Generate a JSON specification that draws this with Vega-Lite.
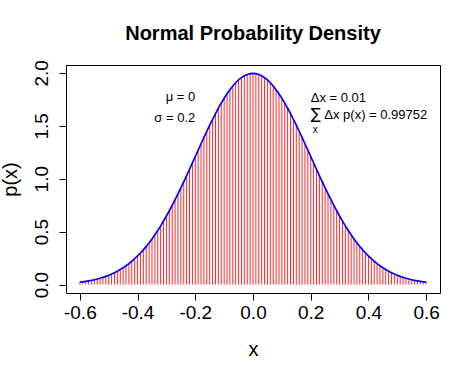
{
  "$schema": "https://vega.github.io/schema/vega-lite/v6.json",
  "autosize": "none",
  "width": 374,
  "height": 228,
  "padding": {"left": 66, "top": 65, "right": 34, "bottom": 84},
  "background": "white",
  "title": {
    "text": "Normal Probability Density",
    "font": "Liberation Sans",
    "fontSize": 20,
    "fontWeight": "bold",
    "color": "black",
    "anchor": "middle",
    "frame": "group",
    "offset": 16
  },
  "config": {
    "view": {"stroke": "black", "strokeWidth": 1},
    "font": "Liberation Sans",
    "axis": {
      "domain": false,
      "grid": false,
      "ticks": true,
      "tickColor": "black",
      "tickSize": 7,
      "labelColor": "black",
      "labelFont": "Liberation Sans",
      "labelFontSize": 19,
      "titleFont": "Liberation Sans",
      "titleFontSize": 20,
      "titleFontWeight": "normal",
      "titleColor": "black"
    }
  },
  "datasets": {
    "dens": [
      {"x":-0.60,"p":0.0222},{"x":-0.59,"p":0.0257},{"x":-0.58,"p":0.0298},{"x":-0.57,"p":0.0344},{"x":-0.56,"p":0.0396},
      {"x":-0.55,"p":0.0455},{"x":-0.54,"p":0.0521},{"x":-0.53,"p":0.0596},{"x":-0.52,"p":0.0679},{"x":-0.51,"p":0.0772},
      {"x":-0.50,"p":0.0876},{"x":-0.49,"p":0.0992},{"x":-0.48,"p":0.1120},{"x":-0.47,"p":0.1261},{"x":-0.46,"p":0.1416},
      {"x":-0.45,"p":0.1587},{"x":-0.44,"p":0.1774},{"x":-0.43,"p":0.1977},{"x":-0.42,"p":0.2199},{"x":-0.41,"p":0.2440},
      {"x":-0.40,"p":0.2700},{"x":-0.39,"p":0.2980},{"x":-0.38,"p":0.3281},{"x":-0.37,"p":0.3603},{"x":-0.36,"p":0.3948},
      {"x":-0.35,"p":0.4314},{"x":-0.34,"p":0.4702},{"x":-0.33,"p":0.5113},{"x":-0.32,"p":0.5546},{"x":-0.31,"p":0.6000},
      {"x":-0.30,"p":0.6476},{"x":-0.29,"p":0.6972},{"x":-0.28,"p":0.7486},{"x":-0.27,"p":0.8019},{"x":-0.26,"p":0.8568},
      {"x":-0.25,"p":0.9132},{"x":-0.24,"p":0.9709},{"x":-0.23,"p":1.0297},{"x":-0.22,"p":1.0893},{"x":-0.21,"p":1.1494},
      {"x":-0.20,"p":1.2099},{"x":-0.19,"p":1.2703},{"x":-0.18,"p":1.3304},{"x":-0.17,"p":1.3899},{"x":-0.16,"p":1.4485},
      {"x":-0.15,"p":1.5057},{"x":-0.14,"p":1.5613},{"x":-0.13,"p":1.6149},{"x":-0.12,"p":1.6661},{"x":-0.11,"p":1.7147},
      {"x":-0.10,"p":1.7603},{"x":-0.09,"p":1.8026},{"x":-0.08,"p":1.8414},{"x":-0.07,"p":1.8762},{"x":-0.06,"p":1.9069},
      {"x":-0.05,"p":1.9333},{"x":-0.04,"p":1.9552},{"x":-0.03,"p":1.9724},{"x":-0.02,"p":1.9848},{"x":-0.01,"p":1.9922},
      {"x":0.00,"p":1.9947},
      {"x":0.01,"p":1.9922},{"x":0.02,"p":1.9848},{"x":0.03,"p":1.9724},{"x":0.04,"p":1.9552},{"x":0.05,"p":1.9333},
      {"x":0.06,"p":1.9069},{"x":0.07,"p":1.8762},{"x":0.08,"p":1.8414},{"x":0.09,"p":1.8026},{"x":0.10,"p":1.7603},
      {"x":0.11,"p":1.7147},{"x":0.12,"p":1.6661},{"x":0.13,"p":1.6149},{"x":0.14,"p":1.5613},{"x":0.15,"p":1.5057},
      {"x":0.16,"p":1.4485},{"x":0.17,"p":1.3899},{"x":0.18,"p":1.3304},{"x":0.19,"p":1.2703},{"x":0.20,"p":1.2099},
      {"x":0.21,"p":1.1494},{"x":0.22,"p":1.0893},{"x":0.23,"p":1.0297},{"x":0.24,"p":0.9709},{"x":0.25,"p":0.9132},
      {"x":0.26,"p":0.8568},{"x":0.27,"p":0.8019},{"x":0.28,"p":0.7486},{"x":0.29,"p":0.6972},{"x":0.30,"p":0.6476},
      {"x":0.31,"p":0.6000},{"x":0.32,"p":0.5546},{"x":0.33,"p":0.5113},{"x":0.34,"p":0.4702},{"x":0.35,"p":0.4314},
      {"x":0.36,"p":0.3948},{"x":0.37,"p":0.3603},{"x":0.38,"p":0.3281},{"x":0.39,"p":0.2980},{"x":0.40,"p":0.2700},
      {"x":0.41,"p":0.2440},{"x":0.42,"p":0.2199},{"x":0.43,"p":0.1977},{"x":0.44,"p":0.1774},{"x":0.45,"p":0.1587},
      {"x":0.46,"p":0.1416},{"x":0.47,"p":0.1261},{"x":0.48,"p":0.1120},{"x":0.49,"p":0.0992},{"x":0.50,"p":0.0876},
      {"x":0.51,"p":0.0772},{"x":0.52,"p":0.0679},{"x":0.53,"p":0.0596},{"x":0.54,"p":0.0521},{"x":0.55,"p":0.0455},
      {"x":0.56,"p":0.0396},{"x":0.57,"p":0.0344},{"x":0.58,"p":0.0298},{"x":0.59,"p":0.0257},{"x":0.60,"p":0.0222}
    ],
    "notesRight": [
      {"x":-0.2,"y":1.77,"label":"μ = 0"},
      {"x":-0.2,"y":1.57,"label":"σ = 0.2"}
    ],
    "notesLeft": [
      {"x":0.2,"y":1.765,"label":"Δx = 0.01"},
      {"x":0.247,"y":1.6,"label":"Δx p(x) = 0.99752"}
    ],
    "sigma": [{"x":0.2,"y":1.61,"label":"∑"}],
    "sub": [{"x":0.207,"y":1.46,"label":"x"}]
  },
  "encoding": {
    "x": {
      "field": "x", "type": "quantitative",
      "scale": {"domain": [-0.648, 0.648], "nice": false, "zero": false},
      "axis": {"title": "x", "values": [-0.6,-0.4,-0.2,0,0.2,0.4,0.6], "format": ".1f",
               "labelExpr": "replace(datum.label, '\u2212', '-')",
               "labelPadding": 3, "titlePadding": 17}
    },
    "y": {
      "field": "p", "type": "quantitative",
      "scale": {"domain": [-0.0798, 2.0745], "nice": false, "zero": false},
      "axis": {"title": "p(x)", "values": [0,0.5,1,1.5,2], "format": ".1f",
               "labelAngle": -90, "labelAlign": "center", "labelBaseline": "bottom",
               "labelPadding": 8, "titlePadding": 12}
    }
  },
  "layer": [
    {
      "data": {"name": "dens"},
      "mark": {"type": "rule", "color": "#ff0000", "strokeWidth": 1, "opacity": 0.85},
      "encoding": {"y2": {"datum": 0}}
    },
    {
      "data": {"name": "dens"},
      "mark": {"type": "line", "color": "#0000ff", "strokeWidth": 1.7}
    },
    {
      "data": {"name": "notesRight"},
      "mark": {"type": "text", "align": "right", "baseline": "middle", "fontSize": 13, "font": "Liberation Sans", "color": "black"},
      "encoding": {"y": {"field": "y", "type": "quantitative"}, "text": {"field": "label"}}
    },
    {
      "data": {"name": "notesLeft"},
      "mark": {"type": "text", "align": "left", "baseline": "middle", "fontSize": 13, "font": "Liberation Sans", "color": "black"},
      "encoding": {"y": {"field": "y", "type": "quantitative"}, "text": {"field": "label"}}
    },
    {
      "data": {"name": "sigma"},
      "mark": {"type": "text", "align": "left", "baseline": "middle", "fontSize": 15, "font": "DejaVu Sans", "color": "black"},
      "encoding": {"y": {"field": "y", "type": "quantitative"}, "text": {"field": "label"}}
    },
    {
      "data": {"name": "sub"},
      "mark": {"type": "text", "align": "left", "baseline": "middle", "fontSize": 10, "font": "Liberation Sans", "color": "black"},
      "encoding": {"y": {"field": "y", "type": "quantitative"}, "text": {"field": "label"}}
    }
  ]
}
